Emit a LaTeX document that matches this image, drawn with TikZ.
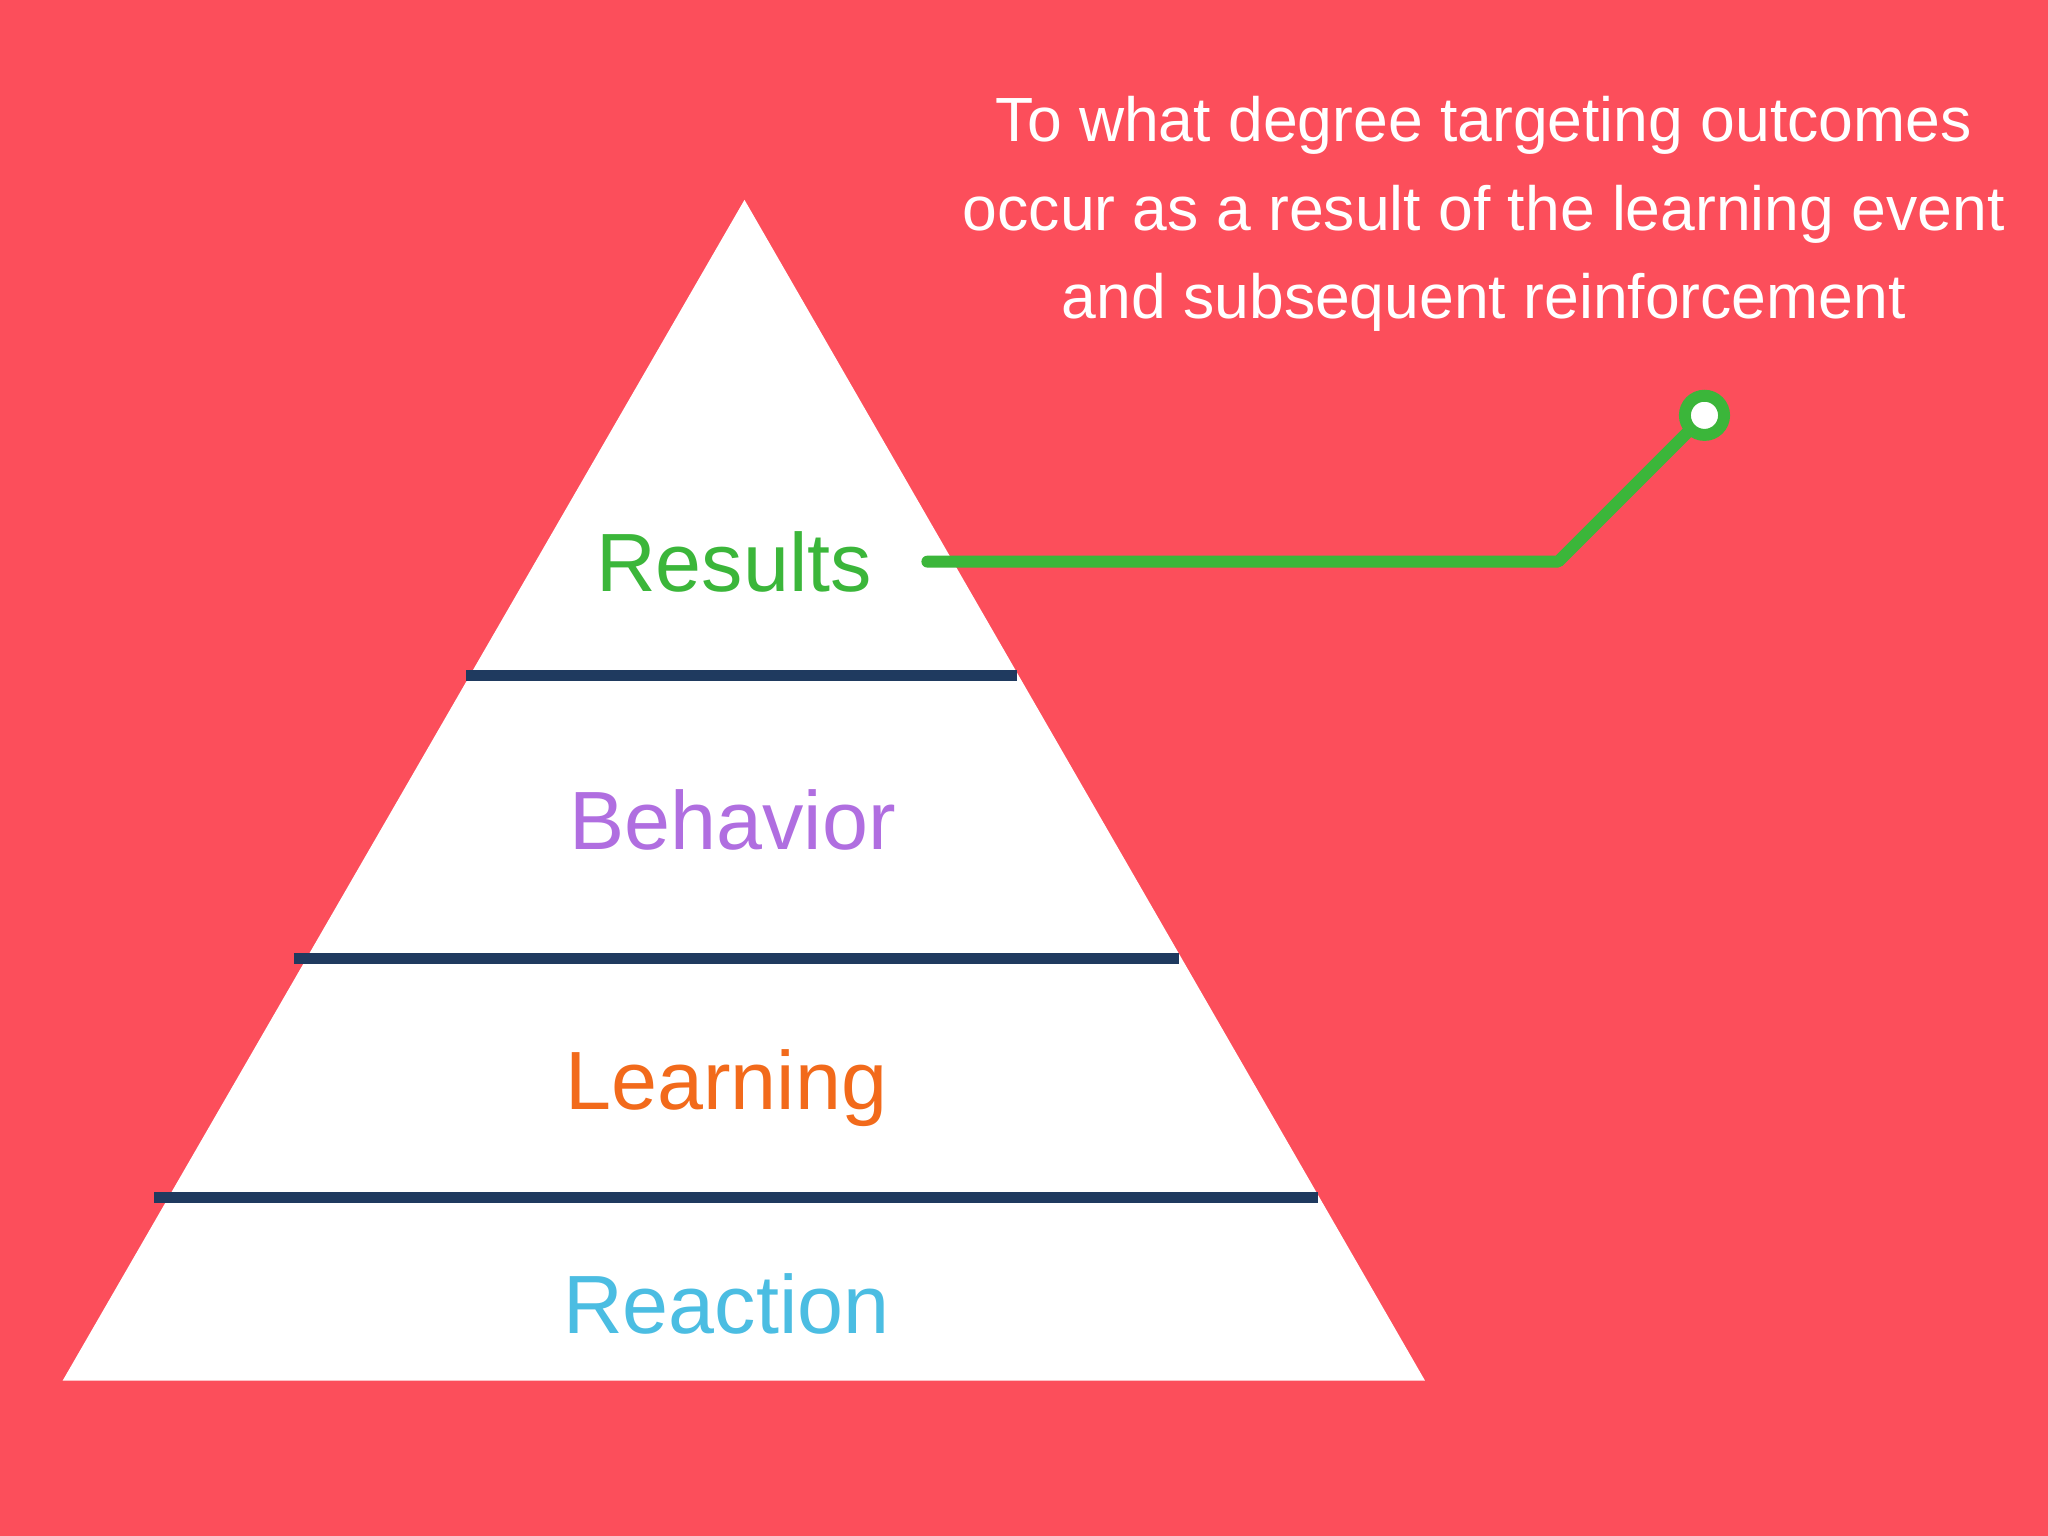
\documentclass[tikz,border=0pt]{standalone}
\usepackage{fontspec}
\setmainfont{Liberation Sans}
\definecolor{bg}{HTML}{FC4E5B}
\definecolor{navy}{HTML}{1F3A5F}
\definecolor{gr}{HTML}{3BB63A}
\definecolor{pu}{HTML}{B06EE0}
\definecolor{orr}{HTML}{F26A1B}
\definecolor{sky}{HTML}{4BBDE2}
\begin{document}
\begin{tikzpicture}[x=0.01cm,y=-0.01cm,
  sep/.style={navy,line width=2.3pt},
  lab/.style={font=\fontsize{18}{20}\selectfont,inner sep=0pt},
  conn/.style={gr,line width=2.6pt,line cap=round,line join=round}]
\fill[bg] (0,0) rectangle (1568,1176);
\useasboundingbox (0,0) rectangle (1568,1176);
\fill[white] (570,153) -- (1091,1057) -- (48,1057) -- cycle;
\coordinate (s1a) at (357,517); \coordinate (s1b) at (779,517);
\coordinate (s2a) at (225,734); \coordinate (s2b) at (903,734);
\coordinate (s3a) at (118,917); \coordinate (s3b) at (1009,917);
\draw[sep] (s1a)--(s1b); \draw[sep] (s2a)--(s2b); \draw[sep] (s3a)--(s3b);
\node[lab,text=gr] (res) at (562,430) {Results};
\node[lab,text=pu] (beh) at (561,628) {Behavior};
\node[lab,text=orr] (lea) at (556,833) {Learning};
\node[lab,text=sky] (rea) at (556,998) {Reaction};
\node[text=white,align=center,font=\fontsize{13.6}{19.3}\selectfont,inner sep=0pt] (desc) at (1136,164)
 {To what degree targeting outcomes\\occur as a result of the learning event\\and subsequent reinforcement};
\coordinate (c0) at (710,430); \coordinate (c1) at (1193,430);
\node[circle,draw=gr,line width=2.6pt,fill=white,minimum size=0.3cm,inner sep=0pt] (dot) at (1305,318) {};
\draw[conn] (c0) -- (c1) -- (dot);
\end{tikzpicture}
\end{document}
